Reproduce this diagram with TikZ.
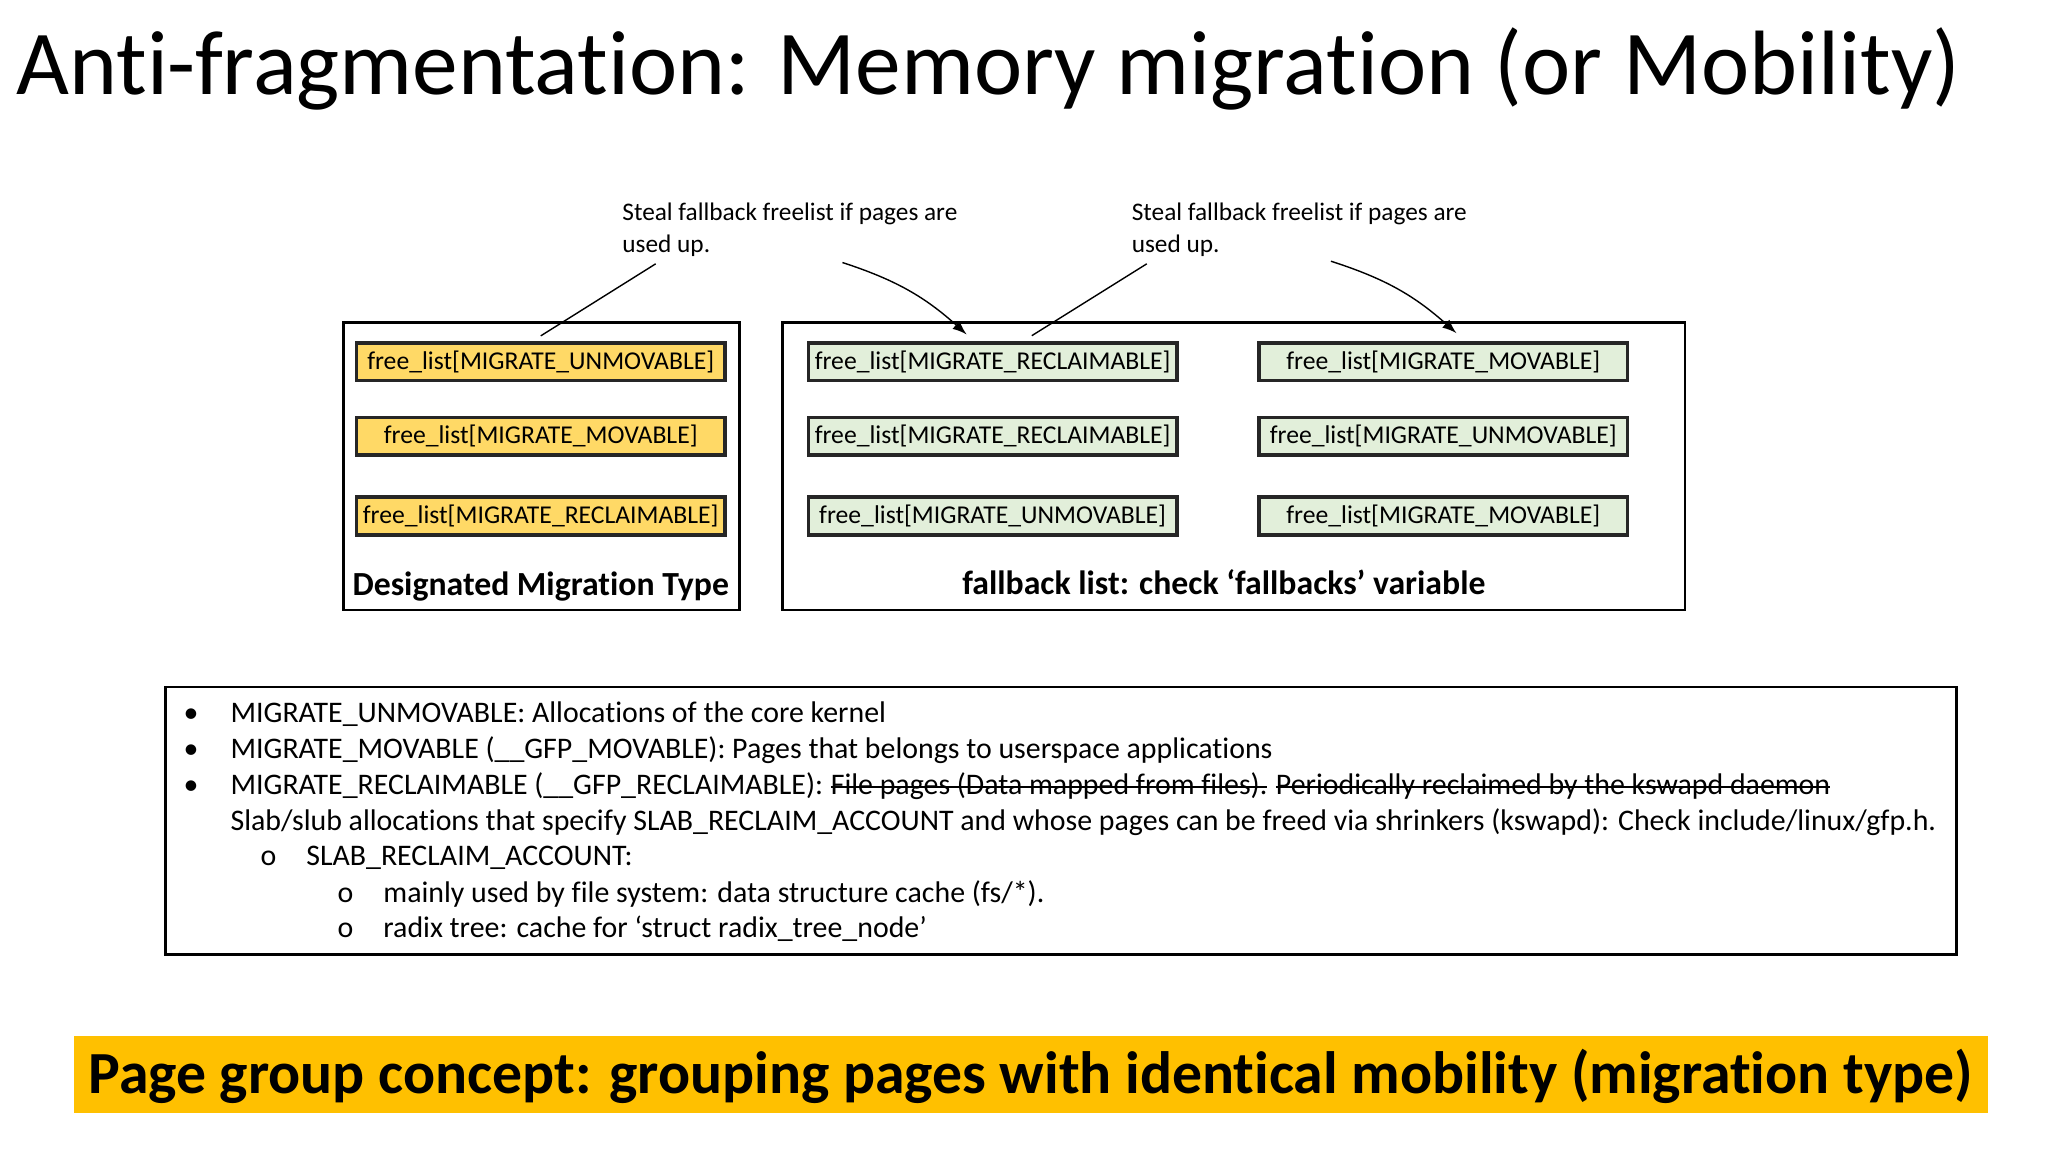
\documentclass[tikz,border=0pt]{standalone}
\usepackage{fontspec}
\setmainfont{Carlito}[RawFeature=-liga]
\usetikzlibrary{positioning}
\definecolor{listyellow}{HTML}{FFD966}
\definecolor{listgreen}{HTML}{E2EFDA}
\definecolor{banner}{HTML}{FFC000}
\newcommand\strikeit[1]{\tikz[baseline=(s.base)]{\node[inner sep=0pt, outer sep=0pt] (s) {#1};
  \draw[line width=0.5pt] ([yshift=0.25em]s.base west) -- ([yshift=0.25em]s.base east);}}
\tikzset{
  listbox/.style={draw=black!85, line width=1pt, minimum width={282*0.01306cm}, minimum height={29*0.01306cm}, inner sep=0mm, font=\fontsize{7.3}{8}\selectfont},
  frame/.style={draw, line width=0.8pt},
  note/.style={anchor=north west, align=left, inner sep=0mm, font=\fontsize{7.2}{8.9}\selectfont},
  item/.style={anchor=base west, inner sep=0mm, font=\fontsize{8.5}{9}\selectfont},
}
\begin{document}
\begin{tikzpicture}[x=0.01306cm, y=-0.01306cm]
\useasboundingbox (0,0) rectangle (1568,882);
%title
\node[anchor=base west, inner sep=0mm, font=\fontsize{26}{30}\selectfont] (title) at (12,72) {Anti-fragmentation: Memory migration (or Mobility)};

%frames
\draw[frame] (263,247) rectangle (566,467);
\draw[frame] (599,247) rectangle (1290,467);
\node[font=\bfseries\fontsize{9.6}{10}\selectfont] (dlabel) at (414,449) {Designated Migration Type};
\node[font=\bfseries\fontsize{9.6}{10}\selectfont] (flabel) at (937,446) {fallback list: check ‘fallbacks’ variable};

%free lists
\foreach \Name/\X/\Y/\Fill/\Text in {%
  d1/414/277/listyellow/UNMOVABLE, d2/414/334/listyellow/MOVABLE, d3/414/395/listyellow/RECLAIMABLE,
  a1/760/277/listgreen/RECLAIMABLE, a2/760/334/listgreen/RECLAIMABLE, a3/760/395/listgreen/UNMOVABLE,
  b1/1105/277/listgreen/MOVABLE, b2/1105/334/listgreen/UNMOVABLE, b3/1105/395/listgreen/MOVABLE}
  \node[listbox, fill=\Fill] (\Name) at (\X,\Y) {free\_list[MIGRATE\_\Text]};

%notes
\node[note] (steal1) at (476,155) {Steal fallback freelist if pages are\\used up.};
\node[note] (steal2) at (866,155) {Steal fallback freelist if pages are\\used up.};
\coordinate (s1a) at (502,202); \coordinate (s1b) at (645,201); \coordinate (a1in) at (740,256);
\coordinate (s2a) at (878,202); \coordinate (s2b) at (1019,200); \coordinate (b1in) at (1115,255);
\coordinate (a1out) at (790,257);
\draw (d1.north) ++(0,-4) -- (s1a);
\draw[-latex] (s1b) to[bend left=12] (a1in);
\draw (a1out) -- (s2a);
\draw[-latex] (s2b) to[bend left=12] (b1in);

%bullets
\draw[frame] (127,526) rectangle (1498,731);
\foreach \Y/\Mark/\Xm/\Xt/\Text in {%
  553/\textbullet/140/176/{MIGRATE\_UNMOVABLE: Allocations of the core kernel},
  581/\textbullet/140/176/{MIGRATE\_MOVABLE (\_\_GFP\_MOVABLE): Pages that belongs to userspace applications},
  608/\textbullet/140/176/{MIGRATE\_RECLAIMABLE (\_\_GFP\_RECLAIMABLE): \strikeit{File pages (Data mapped from files).} \strikeit{Periodically reclaimed by the kswapd daemon}},
  636/{}/140/176/{Slab/slub allocations that specify SLAB\_RECLAIM\_ACCOUNT and whose pages can be freed via shrinkers (kswapd): Check include/linux/gfp.h.},
  663/o/199/234/{SLAB\_RECLAIM\_ACCOUNT:},
  691/o/258/293/{mainly used by file system: data structure cache (fs/*).},
  718/o/258/293/{radix tree: cache for ‘struct radix\_tree\_node’}}{
  \node[item] at (\Xm,\Y) {\Mark};
  \node[item] at (\Xt,\Y) {\Text};
}

%banner
\fill[banner] (57,793) rectangle (1522,852);
\node[font=\bfseries\fontsize{17}{18}\selectfont] (concept) at (789,824) {Page group concept: grouping pages with identical mobility (migration type)};
\end{tikzpicture}
\end{document}
